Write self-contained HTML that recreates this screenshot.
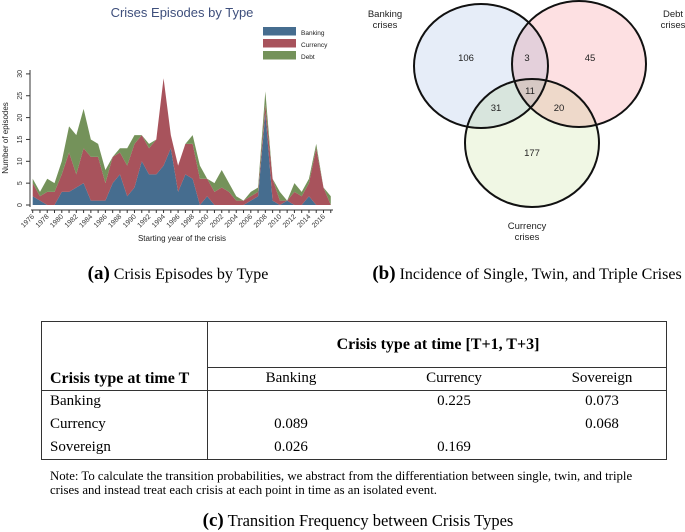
<!DOCTYPE html>
<html><head><meta charset="utf-8"><style>
body{margin:0;background:#fff;width:685px;height:530px;position:relative;overflow:hidden;font-family:"Liberation Sans",sans-serif}
.serif{font-family:"Liberation Serif",serif}
.abs{position:absolute;white-space:nowrap}
</style></head><body>
<svg width="340" height="250" style="position:absolute;left:0;top:0" id="chart"></svg>
<svg width="345" height="250" style="position:absolute;left:340px;top:0" viewBox="340 0 345 250">
<g style="isolation:isolate">
<ellipse cx="481" cy="66" rx="67" ry="62" fill="#e6edf8" style="mix-blend-mode:multiply"/>
<ellipse cx="579" cy="64" rx="67" ry="63" fill="#fde0e2" style="mix-blend-mode:multiply"/>
<ellipse cx="532" cy="143" rx="67" ry="64" fill="#f0f7e4" style="mix-blend-mode:multiply"/>
</g>
<g fill="none" stroke="#111" stroke-width="2">
<ellipse cx="481" cy="66" rx="67" ry="62"/><ellipse cx="579" cy="64" rx="67" ry="63"/><ellipse cx="532" cy="143" rx="67" ry="64"/>
</g>
<g font-size="9.5" text-anchor="middle" fill="#222">
<text x="385" y="17">Banking</text><text x="385" y="28">crises</text>
<text x="673" y="17">Debt</text><text x="673" y="28">crises</text>
<text x="527" y="229">Currency</text><text x="527" y="240">crises</text>
<text x="466" y="61">106</text><text x="527" y="61">3</text><text x="590" y="61">45</text>
<text x="530" y="94">11</text><text x="496" y="111">31</text><text x="559" y="111">20</text><text x="532" y="156">177</text>
</g>
</svg>
<div class="abs serif" style="left:178px;top:263px;transform:translateX(-50%);font-size:16px"><b style="font-size:19px">(a)</b> Crisis Episodes by Type</div>
<div class="abs serif" style="left:527px;top:263px;transform:translateX(-50%);font-size:16px"><b style="font-size:19px">(b)</b> Incidence of Single, Twin, and Triple Crises</div>
<div class="serif" style="position:absolute;left:41px;top:321px;width:624px;height:137px;border:1.5px solid #333;font-size:15px">
<div style="position:absolute;left:165px;top:0;bottom:0;border-left:1.5px solid #333"></div>
<div style="position:absolute;left:165px;right:0;top:45px;border-top:1.5px solid #333"></div>
<div style="position:absolute;left:0;right:0;top:68px;border-top:1.5px solid #333"></div>
<div class="abs" style="left:396px;top:14px;transform:translateX(-50%);font-weight:bold;font-size:16px">Crisis type at time [T+1, T+3]</div>
<div class="abs" style="left:8px;top:48px;font-weight:bold;font-size:16px">Crisis type at time T</div>
<div class="abs" style="left:249px;top:48px;transform:translateX(-50%)">Banking</div>
<div class="abs" style="left:412px;top:48px;transform:translateX(-50%)">Currency</div>
<div class="abs" style="left:560px;top:48px;transform:translateX(-50%)">Sovereign</div>
<div class="abs" style="left:8px;top:71px">Banking</div>
<div class="abs" style="left:8px;top:94px">Currency</div>
<div class="abs" style="left:8px;top:117px">Sovereign</div>
<div class="abs" style="left:412px;top:71px;transform:translateX(-50%)">0.225</div>
<div class="abs" style="left:560px;top:71px;transform:translateX(-50%)">0.073</div>
<div class="abs" style="left:249px;top:94px;transform:translateX(-50%)">0.089</div>
<div class="abs" style="left:560px;top:94px;transform:translateX(-50%)">0.068</div>
<div class="abs" style="left:249px;top:117px;transform:translateX(-50%)">0.026</div>
<div class="abs" style="left:412px;top:117px;transform:translateX(-50%)">0.169</div>
</div>
<div class="abs serif" style="left:50px;top:469px;font-size:12.8px;line-height:14px">Note: To calculate the transition probabilities, we abstract from the differentiation between single, twin, and triple<br>crises and instead treat each crisis at each point in time as an isolated event.</div>
<div class="abs serif" style="left:358px;top:510px;transform:translateX(-50%);font-size:16.5px"><b style="font-size:19px">(c)</b> Transition Frequency between Crisis Types</div>
<script>
const years=[];for(let y=1976;y<=2017;y++)years.push(y);
const banking=[2,1,0,0,3,3,4,5,1,1,1,5,7,2,4,10,7,7,9,13,3,7,6,0,2,0,0,0,0,0,1,2,21,1,0,1,0,0,2,0,0,0];
const currency=[3,1,3,3,4,9,3,8,10,10,4,6,5,7,10,6,6,8,20,3,6,7,8,6,4,3,4,3,1,1,1,1,2,5,1,0,3,2,3,13,4,0];
const debt=[1,1,3,2,3,6,9,9,4,3,3,0,1,4,2,0,1,0,0,0,0,0,2,3,0,2,4,2,1,0,1,1,3,0,2,0,2,1,1,1,0,2];
const yTicks=[0,5,10,15,20,25,30];
const NS='http://www.w3.org/2000/svg';
const svg=document.getElementById('chart');
const X=y=>32.7+(y-1976)*7.27, Y=v=>205-v*4.37;
function el(t,a,p){const e=document.createElementNS(NS,t);for(const k in a)e.setAttribute(k,a[k]);(p||svg).appendChild(e);return e;}
const series=[{n:'banking',d:banking,c:'#466d8f'},{n:'currency',d:currency,c:'#a8535c'},{n:'debt',d:debt,c:'#74925a'}];
let base=years.map(()=>0);
series.forEach(s=>{
 const top=base.map((b,i)=>b+s.d[i]);
 let pts=years.map((y,i)=>X(y)+','+Y(top[i]));
 let bpts=years.map((y,i)=>X(y)+','+Y(base[i])).reverse();
 const p=el('polygon',{points:pts.concat(bpts).join(' '),fill:s.c});
 
 
 base=top;
});
el('line',{x1:30,y1:70,x2:30,y2:207,stroke:'#333','stroke-width':1});
el('line',{x1:31,y1:210,x2:333,y2:210,stroke:'#333','stroke-width':1});
yTicks.forEach(v=>{
 el('line',{x1:26,x2:30,y1:Y(v),y2:Y(v),stroke:'#333'});
 const t=el('text',{x:22,y:Y(v),'font-size':7,'text-anchor':'middle',fill:'#333',transform:`rotate(-90 22 ${Y(v)})`});t.textContent=v;
});
years.forEach(y=>{
 el('line',{x1:X(y),x2:X(y),y1:210,y2:213,stroke:'#333'});
 if(y%2==0&&y<2017){const t=el('text',{x:X(y)+2,y:217,'font-size':7,'text-anchor':'end',fill:'#333',transform:`rotate(-45 ${X(y)+2} 217)`});t.textContent=y;}
});
const tt=el('text',{x:182,y:17,'font-size':13,'text-anchor':'middle',fill:'#3e4f7c'});tt.textContent='Crises Episodes by Type';

const xl=el('text',{x:182,y:241,'font-size':8,'text-anchor':'middle',fill:'#222'});xl.textContent='Starting year of the crisis';

const yl=el('text',{x:8,y:138,'font-size':8,'text-anchor':'middle',fill:'#222',transform:'rotate(-90 8 138)'});yl.textContent='Number of episodes';

series.forEach((s,i)=>{
 const r=el('rect',{x:263,y:27+i*12,width:33,height:8.5,fill:s.c});
 
 const t=el('text',{x:301,y:35+i*12,'font-size':6.5,fill:'#222'});t.textContent=['Banking','Currency','Debt'][i];
 
});
</script>
</body></html>
